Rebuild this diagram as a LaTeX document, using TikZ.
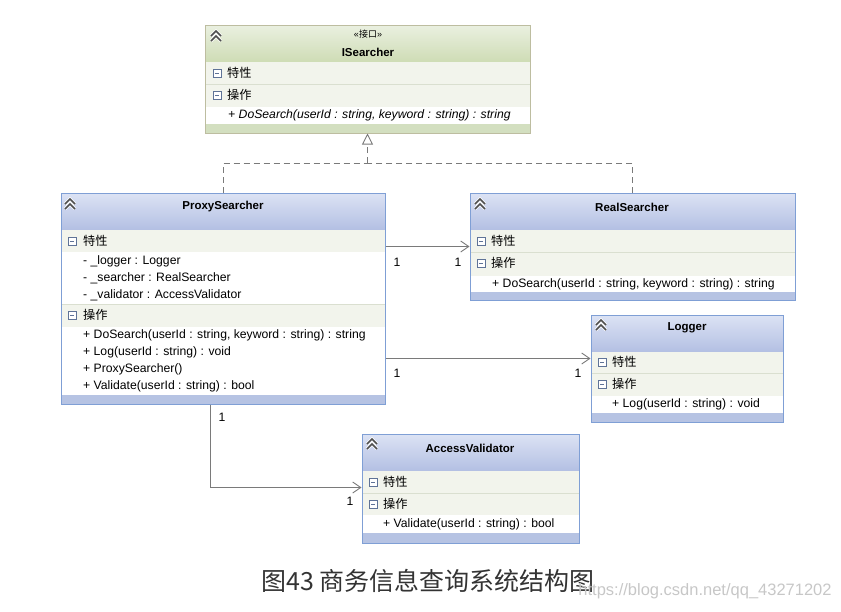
\documentclass[tikz,border=0pt]{standalone}
\usepackage{fontspec}
\setmainfont{Liberation Sans}
\newfontfamily\cjk{Noto Sans CJK SC}
\usetikzlibrary{arrows.meta,fit}

\definecolor{clsborder}{HTML}{7F9FD5}
\definecolor{clshdtop}{HTML}{DCE3F4}
\definecolor{clshdbot}{HTML}{B3BFE3}
\definecolor{clsbar}{HTML}{B6C3E3}
\definecolor{ifborder}{HTML}{BDBDA0}
\definecolor{ifhdtop}{HTML}{EAF0E0}
\definecolor{ifhdbot}{HTML}{CEDCB5}
\definecolor{ifbar}{HTML}{D3DFC0}
\definecolor{rowbg}{HTML}{F2F4EC}
\definecolor{rowsep}{HTML}{DADFD0}
\definecolor{linegray}{HTML}{7A7A7A}
\definecolor{icongray}{HTML}{4F4F4F}
\definecolor{boxgray}{HTML}{5F7397}

\tikzset{
  chev/.pic={
    \draw[white, line width=3pt] (-5,1) -- (0,-4) -- (5,1) (-5,6) -- (0,1) -- (5,6);
    \draw[icongray, line width=1.6pt] (-5,1) -- (0,-4) -- (5,1) (-5,6) -- (0,1) -- (5,6);
  },
  minusbox/.pic={
    \draw[boxgray, fill=white, line width=0.8pt] (-4,-4) rectangle (4,4);
    \draw[boxgray, line width=1pt] (-2,0) -- (2,0);
  }
}

\begin{document}
\begin{tikzpicture}[x=1pt, y=-1pt,
  every node/.style={font=\fontsize{12.2}{14}\selectfont, inner sep=0pt},
  item/.style={anchor=west},
  title/.style={font=\fontsize{11.5}{13}\selectfont\bfseries},
  assoc/.style={draw=linegray, line width=0.9pt, -{Straight Barb[length=8pt, width=11pt]}},
  realize/.style={draw=linegray, line width=0.9pt, dash pattern=on 6pt off 4pt},
]
\useasboundingbox (0,0) rectangle (841,611);

% interface ISearcher
\shade[top color=ifhdtop, bottom color=ifhdbot] (205,25) rectangle (530,62);
\fill[rowbg] (205,62) rectangle (530,107);
\draw[rowsep] (205,84) -- (530,84);
\fill[ifbar] (205,124) rectangle (530,133);
\node (isearcher) [fit={(205,25) (530,133)}, inner sep=0pt, draw=ifborder, line width=1pt] {};
\pic at (216,35) {chev};
\node (is-stereo) at (368,34) [font=\fontsize{9}{10}\selectfont] {«{\cjk 接口}»};
\node (is-title) at (368,52) [title] {ISearcher};
\pic at (217,73) {minusbox};
\node (is-attr) at (227,73) [item] {\cjk 特性};
\pic at (217,95) {minusbox};
\node (is-ops) at (227,95) [item] {\cjk 操作};
\node (is-op1) at (228,115) [item, font=\fontsize{12.2}{14}\selectfont\itshape] {+ DoSearch(userId : string, keyword : string) : string};

% ProxySearcher
\shade[top color=clshdtop, bottom color=clshdbot] (61,193) rectangle (385,230);
\fill[rowbg] (61,230) rectangle (385,252);
\fill[rowbg] (61,304) rectangle (385,327);
\draw[rowsep] (61,304) -- (385,304);
\fill[clsbar] (61,395) rectangle (385,404);
\node (proxy) [fit={(61,193) (385,404)}, inner sep=0pt, draw=clsborder, line width=1pt] {};
\pic at (70,203) {chev};
\node (proxy-title) at (223,207) [title] {ProxySearcher};
\pic at (72,241) {minusbox};
\node (proxy-attr) at (83,241) [item] {\cjk 特性};
\node (proxy-a1) at (83,261) [item] {- \_logger : Logger};
\node (proxy-a2) at (83,278) [item] {- \_searcher : RealSearcher};
\node (proxy-a3) at (83,295) [item] {- \_validator : AccessValidator};
\pic at (72,315) {minusbox};
\node (proxy-ops) at (83,315) [item] {\cjk 操作};
\node (proxy-o1) at (83,335) [item] {+ DoSearch(userId : string, keyword : string) : string};
\node (proxy-o2) at (83,352) [item] {+ Log(userId : string) : void};
\node (proxy-o3) at (83,369) [item] {+ ProxySearcher()};
\node (proxy-o4) at (83,386) [item] {+ Validate(userId : string) : bool};

% RealSearcher
\shade[top color=clshdtop, bottom color=clshdbot] (470,193) rectangle (795,230);
\fill[rowbg] (470,230) rectangle (795,276);
\draw[rowsep] (470,252) -- (795,252);
\fill[clsbar] (470,292) rectangle (795,300);
\node (real) [fit={(470,193) (795,300)}, inner sep=0pt, draw=clsborder, line width=1pt] {};
\pic at (480,203) {chev};
\node (real-title) at (632,207) [title] {RealSearcher};
\pic at (481,241) {minusbox};
\node (real-attr) at (491,241) [item] {\cjk 特性};
\pic at (481,263) {minusbox};
\node (real-ops) at (491,263) [item] {\cjk 操作};
\node (real-o1) at (492,284) [item] {+ DoSearch(userId : string, keyword : string) : string};

% Logger
\shade[top color=clshdtop, bottom color=clshdbot] (591,315) rectangle (783,352);
\fill[rowbg] (591,352) rectangle (783,396);
\draw[rowsep] (591,373) -- (783,373);
\fill[clsbar] (591,413) rectangle (783,422);
\node (logger) [fit={(591,315) (783,422)}, inner sep=0pt, draw=clsborder, line width=1pt] {};
\pic at (601,324) {chev};
\node (logger-title) at (687,328) [title] {Logger};
\pic at (602,362) {minusbox};
\node (logger-attr) at (612,362) [item] {\cjk 特性};
\pic at (602,384) {minusbox};
\node (logger-ops) at (612,384) [item] {\cjk 操作};
\node (logger-o1) at (612,404) [item] {+ Log(userId : string) : void};

% AccessValidator
\shade[top color=clshdtop, bottom color=clshdbot] (362,434) rectangle (579,471);
\fill[rowbg] (362,471) rectangle (579,515);
\draw[rowsep] (362,493) -- (579,493);
\fill[clsbar] (362,533) rectangle (579,543);
\node (validator) [fit={(362,434) (579,543)}, inner sep=0pt, draw=clsborder, line width=1pt] {};
\pic at (372,443) {chev};
\node (validator-title) at (470,448) [title] {AccessValidator};
\pic at (373,482) {minusbox};
\node (validator-attr) at (383,482) [item] {\cjk 特性};
\pic at (373,504) {minusbox};
\node (validator-ops) at (383,504) [item] {\cjk 操作};
\node (validator-o1) at (383,524) [item] {+ Validate(userId : string) : bool};

% realization
\coordinate (join) at (isearcher.south |- 0,163);
\draw[realize] (proxy.north) |- (join);
\draw[realize] (real.north) |- (join);
\draw[realize, -{Triangle[open, fill=white, length=11pt, width=11pt]}] (join) -- (isearcher.south);

% associations
\draw[assoc] ([yshift=-54pt]proxy.north east) -- ([yshift=-54pt]real.north west);
\draw[assoc] ([yshift=-166pt]proxy.north east) -- ([yshift=-44pt]logger.north west);
\draw[assoc] ([xshift=150pt]proxy.south west) |- ([yshift=-54pt]validator.north west);
\node (m-real-a) at (397,262) {1};
\node (m-real-b) at (458,262) {1};
\node (m-log-a) at (397,373) {1};
\node (m-log-b) at (578,373) {1};
\node (m-val-a) at (222,417) {1};
\node (m-val-b) at (350,501) {1};

% caption
\node (caption) at (428,581) [font=\cjk\fontsize{25}{26}\selectfont, text=black!80] {图43 商务信息查询系统结构图};
\node (mark) at (705,591) [font=\fontsize{16.5}{18}\selectfont, text=black!22] {https://blog.csdn.net/qq\_43271202};
\end{tikzpicture}
\end{document}
